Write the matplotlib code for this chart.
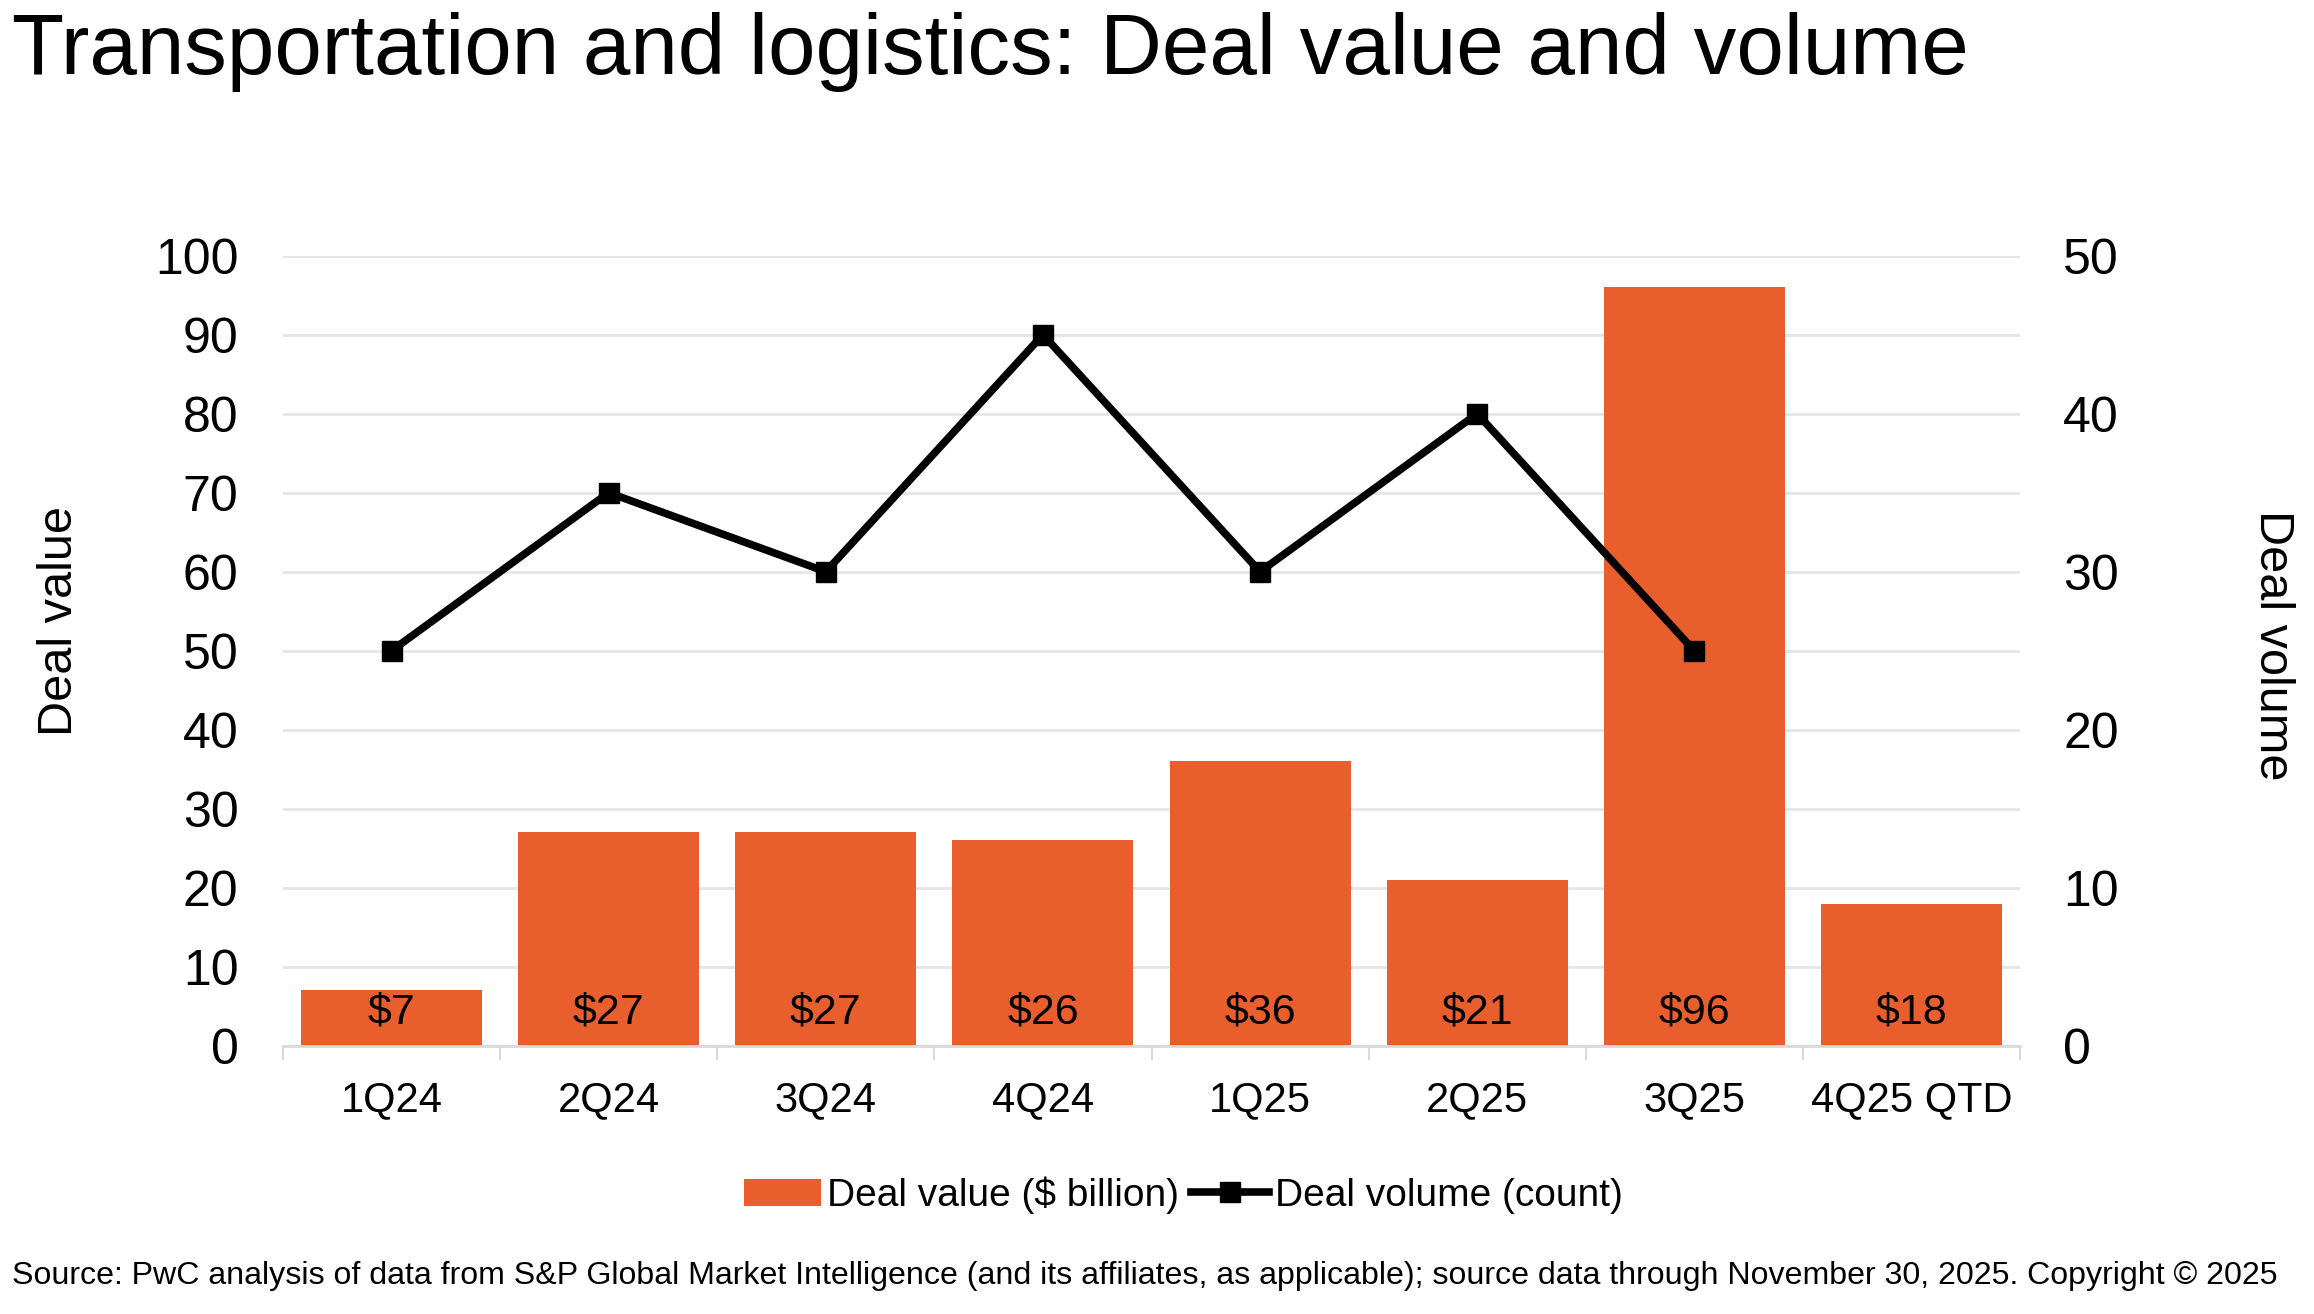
import matplotlib
matplotlib.use("Agg")
import matplotlib.pyplot as plt
from matplotlib.lines import Line2D
from matplotlib.patches import Patch

plt.rcParams['font.family'] = ['Liberation Sans', 'DejaVu Sans']

quarters = ["1Q24", "2Q24", "3Q24", "4Q24", "1Q25", "2Q25", "3Q25", "4Q25 QTD"]
deal_value = [7, 27, 27, 26, 36, 21, 96, 18]
deal_volume = [25, 35, 30, 45, 30, 40, 25]

orange = "#E95E2D"
grid_grey = "#E6E6E6"
axis_grey = "#D9D9D9"

fig = plt.figure(figsize=(23.14, 13.14), dpi=100)
ax = fig.add_axes([283 / 2314, 1 - 1045.7 / 1314, 1737 / 2314, 790 / 1314])
ax2 = ax.twinx()

x = list(range(len(quarters)))
ax.bar(x, deal_value, width=0.834, color=orange, zorder=2)
for i, v in zip(x, deal_value):
    ax.annotate(f"${v}", (i, 0), xytext=(0, 24), textcoords="offset points",
                ha="center", va="center", fontsize=31, zorder=3)

ax2.plot(x[:len(deal_volume)], deal_volume, color="black", linewidth=5.5,
         marker="s", markersize=15)

ax.set_xlim(-0.5, len(quarters) - 0.5)
ax.set_ylim(0, 100)
ax.set_yticks(range(0, 101, 10))
ax2.set_ylim(0, 50)
ax2.set_yticks(range(0, 51, 10))

ax.grid(axis="y", color=grid_grey, linewidth=2, zorder=0)
ax.set_axisbelow(True)

ax.set_xticks(x)
ax.set_xticklabels(quarters)
ax.set_xticks([i - 0.5 for i in range(len(quarters) + 1)], minor=True)
ax.tick_params(axis="x", which="major", length=0, pad=25, labelsize=30)
ax.tick_params(axis="x", which="minor", length=10, width=1.5, color=axis_grey)
ax.tick_params(axis="y", length=0, pad=32, labelsize=36)
ax2.tick_params(axis="y", length=0, pad=31, labelsize=36)

for a in (ax, ax2):
    for s in ("top", "left", "right"):
        a.spines[s].set_visible(False)
ax.spines["bottom"].set_color(axis_grey)
ax.spines["bottom"].set_linewidth(2)
ax2.spines["bottom"].set_visible(False)

fig.text(60 / 2314, 1 - 621 / 1314, "Deal value", rotation=90, ha="center",
         va="center", fontsize=35)
fig.text(2272 / 2314, 1 - 645 / 1314, "Deal volume", rotation=270, ha="center",
         va="center", fontsize=35)

fig.text(12 / 2314, 1 - 74 / 1314,
         "Transportation and logistics: Deal value and volume",
         ha="left", va="baseline", fontsize=61.5)

handles = [Patch(facecolor=orange, label="Deal value ($ billion)"),
           Line2D([0], [0], color="black", linewidth=5.5, marker="s",
                  markersize=15, label="Deal volume (count)")]
fig.legend(handles=handles, loc="center", bbox_to_anchor=(1183 / 2314, 1 - 1195 / 1314),
           ncol=2, frameon=False, fontsize=28, handlelength=2.0,
           handletextpad=0.15, columnspacing=0.3)

fig.text(12 / 2314, 1 - 1284 / 1314,
         "Source: PwC analysis of data from S&P Global Market Intelligence "
         "(and its affiliates, as applicable); source data through November 30, 2025. "
         "Copyright \u00a9 2025",
         ha="left", va="baseline", fontsize=23.15)

fig.savefig("out.png", dpi=100)
